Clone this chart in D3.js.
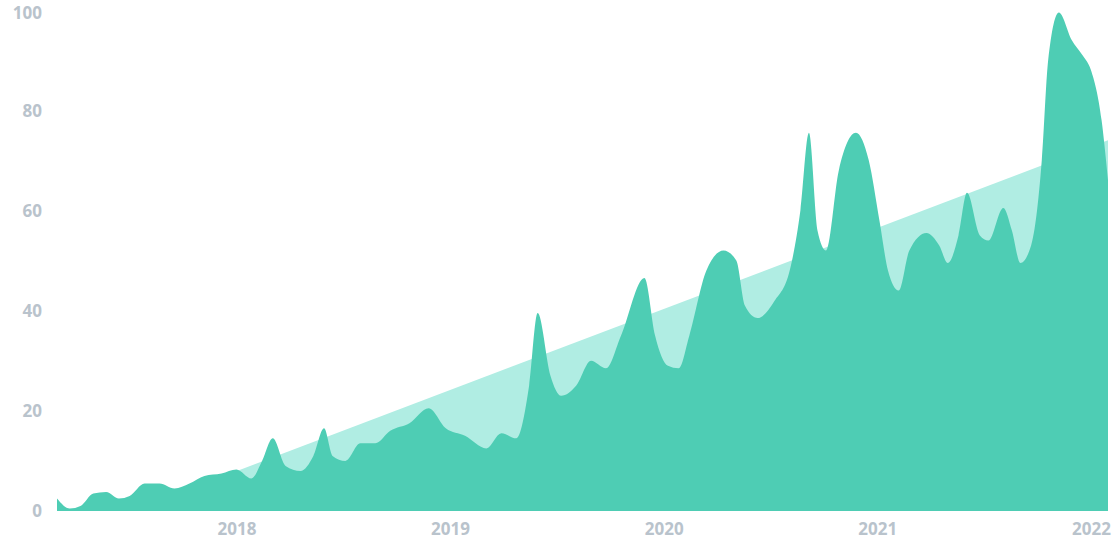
<!DOCTYPE html>
<html><head><meta charset="utf-8">
<script src="https://cdn.jsdelivr.net/npm/d3@7"></script>
<style>body{margin:0;background:#fff}text{font-family:"Open Sans",Lato,sans-serif;font-weight:700;fill:#b9c3cc;font-size:17px}</style>
</head><body><svg id="c" width="1120" height="560"></svg>
<script>
const dates=[2017.16,2017.22,2017.27,2017.33,2017.39,2017.45,2017.50,2017.57,2017.64,2017.71,2017.78,2017.85,2017.93,2018.00,2018.07,2018.12,2018.17,2018.23,2018.30,2018.36,2018.41,2018.45,2018.51,2018.58,2018.65,2018.72,2018.81,2018.90,2018.98,2019.07,2019.17,2019.24,2019.31,2019.37,2019.41,2019.47,2019.52,2019.59,2019.66,2019.73,2019.80,2019.91,2019.96,2020.02,2020.07,2020.12,2020.20,2020.28,2020.34,2020.38,2020.44,2020.52,2020.59,2020.64,2020.68,2020.72,2020.76,2020.82,2020.90,2020.96,2021.01,2021.05,2021.10,2021.15,2021.23,2021.29,2021.33,2021.38,2021.42,2021.48,2021.52,2021.59,2021.63,2021.67,2021.72,2021.77,2021.80,2021.85,2021.91,2021.96,2022.00,2022.05,2022.08];
const values=[2.5,0.5,1,3.5,3.8,2.5,3,5.5,5.5,4.5,5.5,7,7.5,8.3,6.5,10,14.5,9,8,11,16.5,11,10,13.5,13.5,16,17.5,20.5,16.5,15,12.5,15.5,14.5,25,39.5,27,23,25,30,28.5,35,46.5,35,29,28.5,35,48,52,50,41,38.5,42,48,60,75.5,56,52,68,75.5,70,58,48,44,52,55.5,53,49.5,55,63.5,55,54,60.5,56,49.5,53,70,90,99.5,94,91,88,78,66];
const trendDates=[2017.51,2022.08];
const trendValues=[0,74];
const xTicks=[2018,2019,2020,2021,2022];
const yTicks=[0,20,40,60,80,100];

const svg=d3.select("#c");
const x=d3.scaleLinear().domain([2017.16,2022.08]).range([57,1108]);
const y=d3.scaleLinear().domain([0,100]).range([511,10]);
const trend=trendDates.map((d,i)=>[d,trendValues[i]]);
const data=dates.map((d,i)=>[d,values[i]]);
svg.append("path").datum(trend).attr("fill","#b0ede3")
 .attr("d",d3.area().x(d=>x(d[0])).y0(y(0)).y1(d=>y(d[1])));
svg.append("path").datum(data).attr("fill","#4ecdb4")
 .attr("d",d3.area().curve(d3.curveMonotoneX).x(d=>x(d[0])).y0(y(0)).y1(d=>y(d[1])));
const ya=svg.append("g").attr("transform","translate(42,0)").call(d3.axisLeft(y).tickValues(yTicks).tickSize(0).tickPadding(0));
ya.select(".domain").remove();
ya.selectAll("text").attr("text-anchor","end").attr("dy","0.35em");
ya.selectAll(".tick").filter(d=>d===100).select("text").attr("dy","0.5em");
const xa=svg.append("g").attr("transform","translate(0,523)").call(d3.axisBottom(x).tickValues(xTicks).tickFormat(d3.format("d")).tickSize(0).tickPadding(0));
xa.select(".domain").remove();
xa.selectAll("text").attr("dy","0.71em");
</script></body></html>
